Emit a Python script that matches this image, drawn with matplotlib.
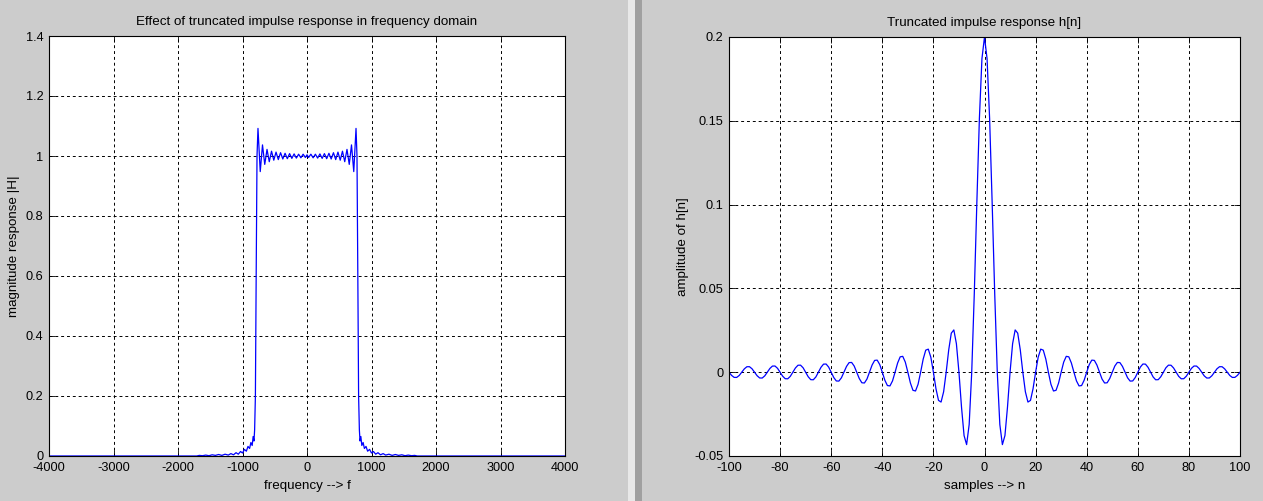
import numpy as np
import matplotlib
matplotlib.use('Agg')
import matplotlib.pyplot as plt
from matplotlib.patches import Rectangle
from matplotlib.ticker import FormatStrFormatter

plt.rcParams['font.family'] = ['Liberation Sans', 'DejaVu Sans']
plt.rcParams['font.size'] = 9
plt.rcParams['axes.unicode_minus'] = False

# Magnitude response, positive half (mirrored below)
freq_pos = [0, 25, 60, 95, 130, 165, 200, 235, 270, 305, 340, 375, 410, 445,
            480, 515, 550, 585, 620, 655, 690, 725, 760, 775, 788, 800, 812,
            822, 835, 850, 870, 890, 915, 940, 970, 1000, 1030, 1065, 1100,
            1140, 1180, 1220, 1270, 1320, 1370, 1420, 1470, 1520, 1570, 1620,
            1670, 1710, 1760, 4000]
mag_pos = [1.004, 0.995, 1.006, 0.994, 1.006, 0.993, 1.007, 0.992, 1.008,
           0.991, 1.009, 0.990, 1.011, 0.988, 1.013, 0.986, 1.016, 0.981,
           1.022, 0.972, 1.037, 0.948, 1.092, 1.000, 0.600, 0.200, 0.087,
           0.050, 0.065, 0.035, 0.045, 0.025, 0.032, 0.016, 0.022, 0.010,
           0.015, 0.006, 0.011, 0.004, 0.008, 0.003, 0.006, 0.002, 0.005,
           0.002, 0.004, 0.001, 0.003, 0.001, 0.002, 0.0, 0.0, 0.0]

# Truncated impulse response h[n], n = 0..100 (symmetric)
h_pos = [0.2, 0.1871, 0.1514, 0.1009, 0.0468, 0.0, -0.0312, -0.0432, -0.0378,
         -0.0208, 0.0, 0.01701, 0.02523, 0.02329, 0.01336, 0.0, -0.01169,
         -0.01781, -0.01682, -0.00985, 0.0, 0.00891, 0.01376, 0.01316,
         0.00780, 0.0, -0.00720, -0.01121, -0.01081, -0.00645, 0.0, 0.00604,
         0.00946, 0.00917, 0.00550, 0.0, -0.00520, -0.00818, -0.00797,
         -0.00480, 0.0, 0.00456, 0.00721, 0.00704, 0.00425, 0.0, -0.00407,
         -0.00644, -0.00631, -0.00382, 0.0, 0.00367, 0.00582, 0.00571,
         0.00346, 0.0, -0.00334, -0.00531, -0.00522, -0.00317, 0.0, 0.00307,
         0.00488, 0.00481, 0.00292, 0.0, -0.00283, -0.00452, -0.00445,
         -0.00271, 0.0, 0.00264, 0.00420, 0.00415, 0.00253, 0.0, -0.00246,
         -0.00393, -0.00388, -0.00237, 0.0, 0.00231, 0.00369, 0.00365,
         0.00223, 0.0, -0.00218, -0.00348, -0.00344, -0.00210, 0.0, 0.00206,
         0.00329, 0.00326, 0.00199, 0.0, -0.00195, -0.00312, -0.00309,
         -0.00189, 0.0]

freq = np.concatenate([-np.array(freq_pos[::-1]), np.array(freq_pos[1:])])
mag = np.concatenate([np.array(mag_pos[::-1]), np.array(mag_pos[1:])])
n = np.arange(-100, 101)
h = np.concatenate([np.array(h_pos[::-1]), np.array(h_pos[1:])])

W, H = 1263, 501
fig = plt.figure(figsize=(W / 100, H / 100), dpi=100)
fig.patch.set_facecolor('#cccccc')

# divider between the two panels
fig.patches.append(Rectangle((628 / W, 0), 7 / W, 1, transform=fig.transFigure,
                             facecolor='#e8e8e8', edgecolor='none'))
fig.patches.append(Rectangle((635 / W, 0), 7 / W, 1, transform=fig.transFigure,
                             facecolor='#a0a0a0', edgecolor='none'))

ax1 = fig.add_axes([49 / W, (H - 456) / H, (565 - 49) / W, (456 - 36) / H])
ax2 = fig.add_axes([729 / W, (H - 456) / H, (1240 - 729) / W, (456 - 37) / H])

LBL = 9.6


def style(ax):
    ax.grid(True, color='black', linestyle=(0, (3, 3)), linewidth=0.7)
    ax.tick_params(direction='in', length=4, width=0.6, top=True, right=True,
                   labelsize=9.2, pad=4, colors='black')
    for s in ax.spines.values():
        s.set_linewidth(0.8)


ax1.plot(freq, mag, color='#0000ff', linewidth=0.9)
ax1.set_xlim(-4000, 4000)
ax1.set_ylim(0, 1.4)
ax1.set_xticks(np.arange(-4000, 4001, 1000))
ax1.set_yticks(np.arange(0, 1.41, 0.2))
ax1.yaxis.set_major_formatter(FormatStrFormatter('%g'))
ax1.set_title('Effect of truncated impulse response in frequency domain',
              fontsize=LBL, pad=8)
ax1.set_xlabel('frequency --> f', fontsize=LBL, labelpad=5)
ax1.set_ylabel('magnitude response |H|', fontsize=LBL, labelpad=4)
style(ax1)

ax2.plot(n, h, color='#0000ff', linewidth=0.9)
ax2.set_xlim(-100, 100)
ax2.set_ylim(-0.05, 0.2)
ax2.set_xticks(np.arange(-100, 101, 20))
ax2.set_yticks([-0.05, 0, 0.05, 0.1, 0.15, 0.2])
ax2.yaxis.set_major_formatter(FormatStrFormatter('%g'))
ax2.set_title('Truncated impulse response h[n]', fontsize=LBL, pad=8)
ax2.set_xlabel('samples --> n', fontsize=LBL, labelpad=5)
ax2.set_ylabel('amplitude of h[n]', fontsize=LBL, labelpad=4)
style(ax2)

fig.savefig('out.png', dpi=100, facecolor=fig.get_facecolor())
